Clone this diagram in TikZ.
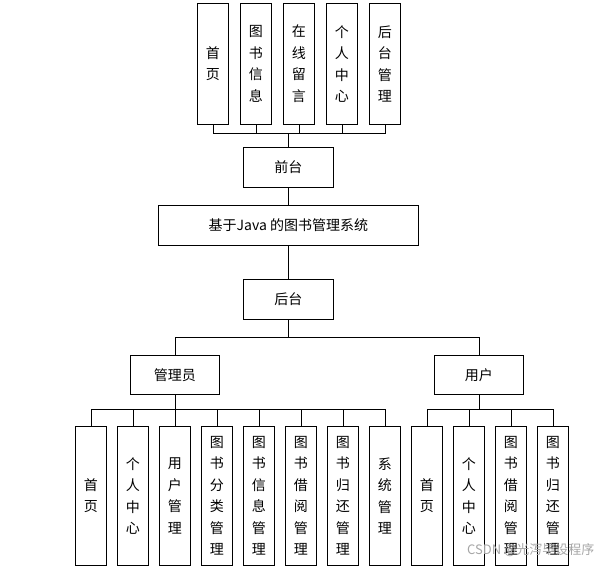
\documentclass[tikz,border=0pt]{standalone}
\usepackage{fontspec}
\setmainfont{Noto Sans CJK SC}
\begin{document}
\begin{tikzpicture}[x=1pt,y=-1pt,
  bx/.style={draw,line width=0.8pt,inner sep=0pt,anchor=north west,font=\fontsize{14}{21.5}\selectfont},
  ln/.style={line width=0.8pt}]
\useasboundingbox (0,0) rectangle (610,569);
\newcommand{\vb}[5]{\node[bx,minimum width=31pt,minimum height=#4pt,align=center] (#1) at (#2,#3) {#5};}
\newcommand{\hb}[4]{\node[bx,minimum width=90pt,minimum height=40pt] (#1) at (#2,#3) {#4};}
% top
\vb{t1}{197}{3}{121}{首\\页}
\vb{t2}{240}{3}{121}{图\\书\\信\\息}
\vb{t3}{283}{3}{121}{在\\线\\留\\言}
\vb{t4}{326}{3}{121}{个\\人\\中\\心}
\vb{t5}{369}{3}{121}{后\\台\\管\\理}
\hb{qt}{243}{147}{前台}
\node[bx,minimum width=260pt,minimum height=40pt] (main) at (158,205) {基于Java 的图书管理系统};
\hb{ht}{243}{279}{后台}
\node[bx,minimum width=89pt,minimum height=39pt] (gly) at (130,355) {管理员};
\node[bx,minimum width=89pt,minimum height=39pt] (yh) at (434,355) {用户};
% bottom
\vb{a1}{75}{426}{139}{首\\页}
\vb{a2}{117}{426}{139}{个\\人\\中\\心}
\vb{a3}{159}{426}{139}{用\\户\\管\\理}
\vb{a4}{201}{426}{139}{图\\书\\分\\类\\管\\理}
\vb{a5}{243}{426}{139}{图\\书\\信\\息\\管\\理}
\vb{a6}{285}{426}{139}{图\\书\\借\\阅\\管\\理}
\vb{a7}{327}{426}{139}{图\\书\\归\\还\\管\\理}
\vb{a8}{369}{426}{139}{系\\统\\管\\理}
\vb{b1}{411}{426}{139}{首\\页}
\vb{b2}{453}{426}{139}{个\\人\\中\\心}
\vb{b3}{495}{426}{139}{图\\书\\借\\阅\\管\\理}
\vb{b4}{537}{426}{139}{图\\书\\归\\还\\管\\理}
% connectors
\foreach \n in {t1,t2,t3,t4,t5} \draw[ln] (\n.south) -- ++(0,9) -| (qt.north);
\draw[ln] (qt.south) -- (main.north);
\draw[ln] (main.south) -- (ht.north);
\draw[ln] (ht.south) -- ++(0,18) -| (gly.north);
\draw[ln] (ht.south) -- ++(0,18) -| (yh.north);
\foreach \n in {a1,a2,a3,a4,a5,a6,a7,a8} \draw[ln] (\n.north) -- ++(0,-17) -| (gly.south);
\foreach \n in {b1,b2,b3,b4} \draw[ln] (\n.north) -- ++(0,-17) -| (yh.south);
\node[text=gray!70,font=\fontsize{13}{14}\selectfont,anchor=east] (wm) at (598,550) {CSDN @光泻毕设程序};
\end{tikzpicture}
\end{document}
